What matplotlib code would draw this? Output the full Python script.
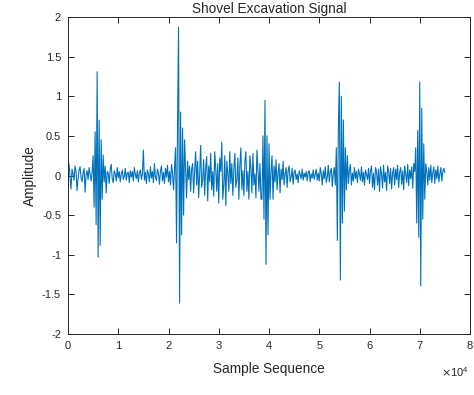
# -*- coding: utf-8 -*-
"""
Shovel excavation signal, redrawn in the MATLAB look.
"""

import numpy as np
import matplotlib
matplotlib.use("Agg")
import matplotlib.pyplot as plt

# ── data: one value every 200 samples ───────────────────────────────────────
SAMPLE_STEP = 200

amplitude = [
    # 0 - 4800
    0.04, 0.15, -0.02, -0.17, 0.08, 0.02, -0.06, 0.12, 0.05, -0.19,
    -0.04, 0.07, 0.11, -0.03, -0.08, 0.03, 0.09, -0.21, 0.01, 0.06,
    -0.05, 0.10, 0.02, -0.07, 0.04,
    # 5000 - 9800  (first dig)
    0.25, -0.40, 0.55, -0.62, 1.31, -1.03, 0.70, -0.88, 0.45, -0.30,
    0.26, -0.08, 0.12, -0.22, 0.05, 0.03, -0.10, 0.08, 0.14, -0.04,
    -0.09, 0.06, 0.02, -0.07, 0.10,
    # 10000 - 14800
    -0.03, 0.05, -0.08, 0.02, 0.07, -0.05, -0.01, 0.09, -0.06, 0.03,
    0.04, -0.09, 0.06, -0.02, 0.05, -0.07, 0.10, 0.01, -0.04, 0.06,
    -0.08, 0.03, 0.07, -0.05, 0.02,
    # 15000 - 19800
    0.32, -0.06, 0.04, -0.10, 0.07, 0.02, -0.08, 0.11, -0.03, 0.05,
    -0.09, 0.15, -0.02, -0.06, 0.08, 0.03, -0.11, 0.06, 0.12, -0.07,
    0.04, -0.10, 0.09, -0.02, 0.13,
    # 20000 - 24800  (second dig)
    -0.08, 0.05, -0.12, 0.14, 0.03, -0.18, 0.10, 0.35, -0.85, 0.65,
    1.87, -1.61, 0.80, -0.75, 0.60, -0.50, 0.45, 0.10, -0.28, 0.18,
    -0.05, 0.12, -0.20, 0.08, 0.15,
    # 25000 - 29800
    -0.22, 0.06, 0.30, -0.12, 0.18, -0.28, 0.02, 0.38, -0.15, -0.05,
    0.20, -0.25, 0.10, 0.24, -0.32, 0.12, -0.08, 0.28, -0.18, 0.05,
    -0.26, 0.30, 0.08, -0.20, 0.15,
    # 30000 - 34800
    -0.35, 0.22, 0.05, 0.42, -0.30, -0.12, 0.25, -0.38, 0.18, 0.03,
    -0.20, 0.30, -0.10, 0.15, -0.25, 0.08, 0.28, -0.15, -0.05, 0.22,
    -0.30, 0.12, 0.35, -0.18, 0.06,
    # 35000 - 39800  (third dig)
    -0.25, 0.18, 0.30, -0.20, 0.05, -0.30, 0.25, 0.10, -0.22, 0.28,
    -0.12, 0.02, -0.28, 0.32, 0.08, -0.20, 0.15, -0.30, -0.30, 0.50,
    -0.55, 0.95, -1.12, 0.50, -0.75,
    # 40000 - 44800
    0.40, -0.30, 0.05, 0.25, -0.30, 0.12, -0.08, 0.20, -0.18, 0.03,
    0.15, -0.22, 0.08, -0.05, 0.18, -0.12, 0.02, 0.10, -0.15, 0.06,
    0.12, -0.08, -0.02, 0.09, -0.11,
    # 45000 - 49800
    0.04, 0.07, -0.05, 0.02, -0.09, 0.06, 0.01, -0.04, 0.08, -0.06,
    0.03, -0.02, 0.05, -0.07, 0.04, 0.06, -0.08, 0.02, -0.03, 0.07,
    -0.05, 0.01, 0.08, -0.06, 0.03,
    # 50000 - 54800  (fourth dig)
    -0.07, 0.10, 0.02, -0.12, 0.06, -0.04, 0.11, -0.09, -0.02, 0.13,
    -0.08, 0.05, 0.09, -0.14, 0.03, 0.10, -0.12, 0.35, -0.82, 0.60,
    1.18, -1.32, 1.00, -0.60, 0.70,
    # 55000 - 59800
    -0.45, 0.35, -0.18, 0.25, -0.10, 0.06, 0.14, -0.12, 0.03, -0.07,
    0.10, -0.04, 0.05, -0.09, 0.08, 0.02, -0.06, 0.11, -0.08, 0.04,
    -0.12, 0.07, 0.01, -0.05, 0.09,
    # 60000 - 64800
    -0.10, 0.06, 0.12, -0.15, 0.03, -0.18, 0.10, 0.05, -0.12, 0.08,
    -0.20, 0.11, 0.02, -0.16, 0.13, -0.08, 0.04, -0.19, 0.12, 0.06,
    -0.10, 0.09, -0.17, 0.03, 0.10,
    # 65000 - 69800  (fifth dig)
    -0.12, 0.08, -0.05, 0.13, -0.15, 0.04, 0.10, -0.11, 0.06, -0.18,
    0.12, 0.02, -0.09, 0.14, -0.13, 0.07, -0.04, 0.11, -0.16, 0.15,
    0.05, 0.35, -0.60, 0.57, -0.78,
    # 70000 - 75000
    1.18, -1.39, 0.85, -0.55, 0.40, -0.30, 0.15, 0.05, -0.12, 0.10,
    -0.06, 0.13, -0.09, 0.03, 0.11, -0.10, 0.07, -0.04, 0.12, -0.08,
    0.02, 0.10, -0.07, 0.05, 0.09, 0.04,
]

x_ticks = [0, 10000, 20000, 30000, 40000, 50000, 60000, 70000, 80000]
x_tick_labels = ["0", "1", "2", "3", "4", "5", "6", "7", "8"]
y_ticks = [-2, -1.5, -1, -0.5, 0, 0.5, 1, 1.5, 2]
y_tick_labels = ["-2", "-1.5", "-1", "-0.5", "0", "0.5", "1", "1.5", "2"]

# ── style ────────────────────────────────────────────────────────────────────
LINE_COLOR = "#0072BD"
TEXT_COLOR = "#262626"
AXIS_COLOR = "#262626"

plt.rcParams["font.family"] = ["Liberation Sans", "DejaVu Sans"]

fig = plt.figure(figsize=(4.74, 3.95), dpi=100)
ax = fig.add_axes([68 / 474, 61 / 395, 402 / 474, 317 / 395])

samples = np.arange(len(amplitude)) * SAMPLE_STEP
ax.plot(samples, amplitude, color=LINE_COLOR, linewidth=0.8)

ax.set_xlim(0, 80000)
ax.set_ylim(-2, 2)
ax.set_xticks(x_ticks)
ax.set_xticklabels(x_tick_labels)
ax.set_yticks(y_ticks)
ax.set_yticklabels(y_tick_labels)

ax.tick_params(direction="in", length=4, width=0.7, colors=AXIS_COLOR,
               labelcolor=TEXT_COLOR, labelsize=8, top=True, right=True)
ax.tick_params(axis="x", pad=5)
ax.tick_params(axis="y", pad=5)
for sp in ax.spines.values():
    sp.set_color(AXIS_COLOR)
    sp.set_linewidth(0.7)

ax.set_title("Shovel Excavation Signal", fontsize=9.8, color=TEXT_COLOR,
             pad=3)
ax.set_xlabel("Sample Sequence", fontsize=9.8, color=TEXT_COLOR)
ax.set_ylabel("Amplitude", fontsize=9.8, color=TEXT_COLOR)
ax.xaxis.set_label_coords(0.5, -0.088)
ax.yaxis.set_label_coords(-0.077, 0.5)

# MATLAB-style exponent under the right end of the x axis
fig.text(455 / 474, 1 - 372 / 395, r"$\times\mathregular{10^4}$",
         fontsize=8, color=TEXT_COLOR, ha="center", va="center")

fig.savefig("out.png", dpi=100)
